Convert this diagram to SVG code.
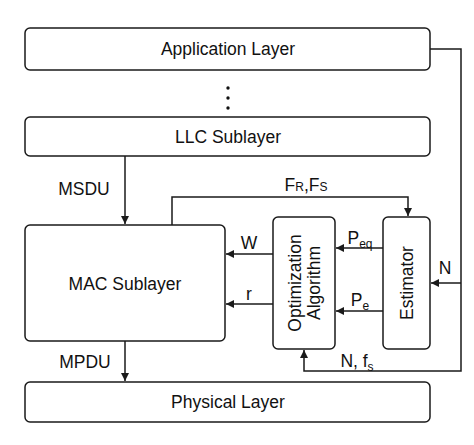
<svg xmlns="http://www.w3.org/2000/svg" width="474" height="445" viewBox="0 0 474 445">
<defs>
<marker id="ah" viewBox="0 0 10 10" refX="10" refY="5" markerWidth="8" markerHeight="9" markerUnits="userSpaceOnUse" orient="auto">
<path d="M0,0 L10,5 L0,10 z" fill="#1a1a1a"/>
</marker>
<style>
.box{fill:#fff;stroke:#1a1a1a;stroke-width:1.5}
.t{font-family:"Liberation Sans",Arial,sans-serif;font-size:17.5px;fill:#111;text-anchor:middle}
.s{font-size:12px}
.c{fill:none;stroke:#1a1a1a;stroke-width:1.5}
</style>
</defs>
<rect width="474" height="445" fill="#fff"/>
<g id="connectors">
<path class="c" d="M430,49 H461 V371 H304 V350" marker-end="url(#ah)"/>
<path class="c" d="M461,283 H431" marker-end="url(#ah)"/>
<path class="c" d="M125,156 V224" marker-end="url(#ah)"/>
<path class="c" d="M172,225 V197 H408 V216" marker-end="url(#ah)"/>
<path class="c" d="M273,254 H226" marker-end="url(#ah)"/>
<path class="c" d="M273,304 H226" marker-end="url(#ah)"/>
<path class="c" d="M383,248 H336" marker-end="url(#ah)"/>
<path class="c" d="M383,311 H336" marker-end="url(#ah)"/>
<path class="c" d="M125,341 V381" marker-end="url(#ah)"/>
<text class="t" x="84" y="195">MSDU</text>
<text class="t" x="306" y="191">F<tspan class="s">R</tspan>,F<tspan class="s">S</tspan></text>
<text class="t" x="249" y="249">W</text>
<text class="t" x="249" y="300">r</text>
<text class="t" x="360" y="244">P<tspan class="s" dy="4">eq</tspan></text>
<text class="t" x="360" y="306">P<tspan class="s" dy="4">e</tspan></text>
<text class="t" x="445" y="274">N</text>
<text class="t" x="357" y="367">N, f<tspan class="s" dy="4">s</tspan></text>
<text class="t" x="85" y="368">MPDU</text>
</g>
<g id="app">
<rect class="box" x="25" y="28" width="405" height="42" rx="5"/>
<text class="t" x="228" y="55">Application Layer</text>
</g>
<g id="dots">
<circle cx="228" cy="88" r="1.7" fill="#111"/>
<circle cx="228" cy="98" r="1.7" fill="#111"/>
<circle cx="228" cy="108" r="1.7" fill="#111"/>
</g>
<g id="llc">
<rect class="box" x="25" y="117" width="405" height="39" rx="5"/>
<text class="t" x="228" y="143">LLC Sublayer</text>
</g>
<g id="mac">
<rect class="box" x="25" y="225" width="200" height="116" rx="5"/>
<text class="t" x="125" y="290">MAC Sublayer</text>
</g>
<g id="opt">
<rect class="box" x="273" y="217" width="62" height="132" rx="5"/>
<text class="t" transform="translate(304,283) rotate(-90)" x="0" y="-3">Optimization</text>
<text class="t" transform="translate(304,283) rotate(-90)" x="0" y="16">Algorithm</text>
</g>
<g id="est">
<rect class="box" x="383" y="217" width="47" height="132" rx="5"/>
<text class="t" transform="translate(407,283) rotate(-90)" x="0" y="6">Estimator</text>
</g>
<g id="phy">
<rect class="box" x="25" y="382" width="405" height="40" rx="5"/>
<text class="t" x="228" y="408">Physical Layer</text>
</g>
</svg>
